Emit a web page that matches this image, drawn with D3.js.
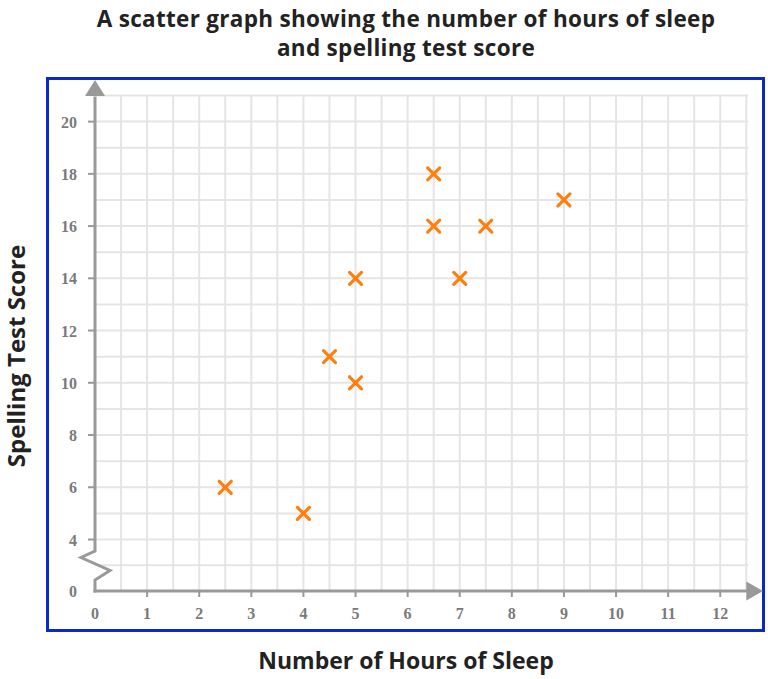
<!DOCTYPE html>
<html>
<head>
<meta charset="utf-8">
<script src="https://cdn.jsdelivr.net/npm/d3@7"></script>
<style>
  body { margin: 0; background: #fff; }
  .tick-label { font-family: "Liberation Serif", "Times New Roman", serif; font-weight: bold; font-size: 16px; fill: #7a7a7a; }
  .title, .axis-title { font-family: "Open Sans", sans-serif; font-weight: 700; fill: #222; }
</style>
</head>
<body>
<script>
// data
var hoursOfSleep = [2.5, 4, 4.5, 5, 5, 6.5, 6.5, 7, 7.5, 9];
var testScores   = [6, 5, 11, 10, 14, 18, 16, 14, 16, 17];
var xTickValues  = [0, 1, 2, 3, 4, 5, 6, 7, 8, 9, 10, 11, 12];
var yTickValues  = [0, 4, 6, 8, 10, 12, 14, 16, 18, 20];
var titleLines   = ['A scatter graph showing the number of hours of sleep', 'and spelling test score'];

var W = 768, H = 679;
var svg = d3.select('body').append('svg').attr('width', W).attr('height', H);

// x: 0 .. 12.5 ; y is broken between 0 and 4
var x = d3.scaleLinear().domain([0, 12.5]).range([95, 746.3]);
var y = d3.scaleLinear().domain([0, 4, 21]).range([591, 539.5, 95.5]);

// title
svg.append('text').attr('class', 'title')
    .attr('x', 406).attr('y', 27).attr('text-anchor', 'middle')
    .style('font-size', '22.5px').style('letter-spacing', '0.3px')
    .selectAll('tspan').data(titleLines).join('tspan')
    .attr('x', 406).attr('dy', function(d, i) { return i ? 29 : 0; })
    .text(function(d) { return d; });

// blue frame
svg.append('rect')
    .attr('x', 47.5).attr('y', 78.5).attr('width', 716).attr('height', 552)
    .attr('fill', 'none').attr('stroke', '#0b28c8').attr('stroke-width', 3);

// grid
var grid = svg.append('g').attr('stroke', '#e5e5e5').attr('stroke-width', 2);
var gx = d3.range(1, 26).map(function(i) { return i / 2; });
grid.selectAll('line.v').data(gx).join('line').attr('class', 'v')
    .attr('x1', function(d) { return x(d); }).attr('x2', function(d) { return x(d); })
    .attr('y1', y(21)).attr('y2', y(0));
var gy = [2].concat(d3.range(4, 22));
grid.selectAll('line.h').data(gy).join('line').attr('class', 'h')
    .attr('y1', function(d) { return y(d); }).attr('y2', function(d) { return y(d); })
    .attr('x1', x(0)).attr('x2', x(12.5) + 2);

// axes
var axisColor = '#999';
var ax = svg.append('g').attr('stroke', axisColor).attr('stroke-width', 3).attr('fill', 'none');
ax.append('line').attr('x1', x(0) - 1.5).attr('x2', x(12.5) + 2).attr('y1', y(0)).attr('y2', y(0));
// y axis with zigzag break
ax.append('path').attr('stroke-linejoin', 'miter')
    .attr('d', d3.line()([[x(0), y(0) + 1.5], [x(0), 580], [110, 570.5], [81, 557.5], [x(0), 551], [x(0), y(21) + 1]]));
// arrowheads
svg.append('path').attr('fill', axisColor)
    .attr('d', 'M' + (x(12.5)) + ',' + (y(0) - 9.5) + 'L763,' + y(0) + 'L' + x(12.5) + ',' + (y(0) + 9.5) + 'Z');
svg.append('path').attr('fill', axisColor)
    .attr('d', 'M' + (x(0) - 10) + ',96L' + x(0) + ',80L' + (x(0) + 10) + ',96Z');

// tick marks
ax.selectAll('line.xt').data(xTickValues.slice(1)).join('line').attr('class', 'xt')
    .attr('stroke-width', 2)
    .attr('x1', function(d) { return x(d); }).attr('x2', function(d) { return x(d); })
    .attr('y1', y(0)).attr('y2', y(0) + 6);
ax.selectAll('line.yt').data(yTickValues.slice(1)).join('line').attr('class', 'yt')
    .attr('stroke-width', 2)
    .attr('y1', function(d) { return y(d); }).attr('y2', function(d) { return y(d); })
    .attr('x1', x(0) - 7).attr('x2', x(0));

// tick labels
svg.selectAll('text.xl').data(xTickValues).join('text').attr('class', 'tick-label xl')
    .attr('x', function(d) { return x(d); }).attr('y', 619).attr('text-anchor', 'middle')
    .text(function(d) { return d; });
svg.selectAll('text.yl').data(yTickValues).join('text').attr('class', 'tick-label yl')
    .attr('x', 77).attr('y', function(d) { return y(d) + 6; }).attr('text-anchor', 'end')
    .text(function(d) { return d; });

// axis titles
svg.append('text').attr('class', 'axis-title')
    .attr('x', 406).attr('y', 669).attr('text-anchor', 'middle').style('font-size', '23px')
    .text('Number of Hours of Sleep');
svg.append('text').attr('class', 'axis-title')
    .attr('transform', 'translate(25,356) rotate(-90)').attr('text-anchor', 'middle').style('font-size', '24px')
    .text('Spelling Test Score');

// crosses
var pts = hoursOfSleep.map(function(h, i) { return [h, testScores[i]]; });
var s = 6;
svg.append('g').attr('stroke', '#ff7f0e').attr('stroke-width', 3.2).attr('stroke-linecap', 'round')
    .selectAll('path').data(pts).join('path')
    .attr('d', function(d) {
        var cx = x(d[0]), cy = y(d[1]);
        return 'M' + (cx - s) + ',' + (cy - s) + 'L' + (cx + s) + ',' + (cy + s) +
               'M' + (cx - s) + ',' + (cy + s) + 'L' + (cx + s) + ',' + (cy - s);
    });
</script>
</body>
</html>
